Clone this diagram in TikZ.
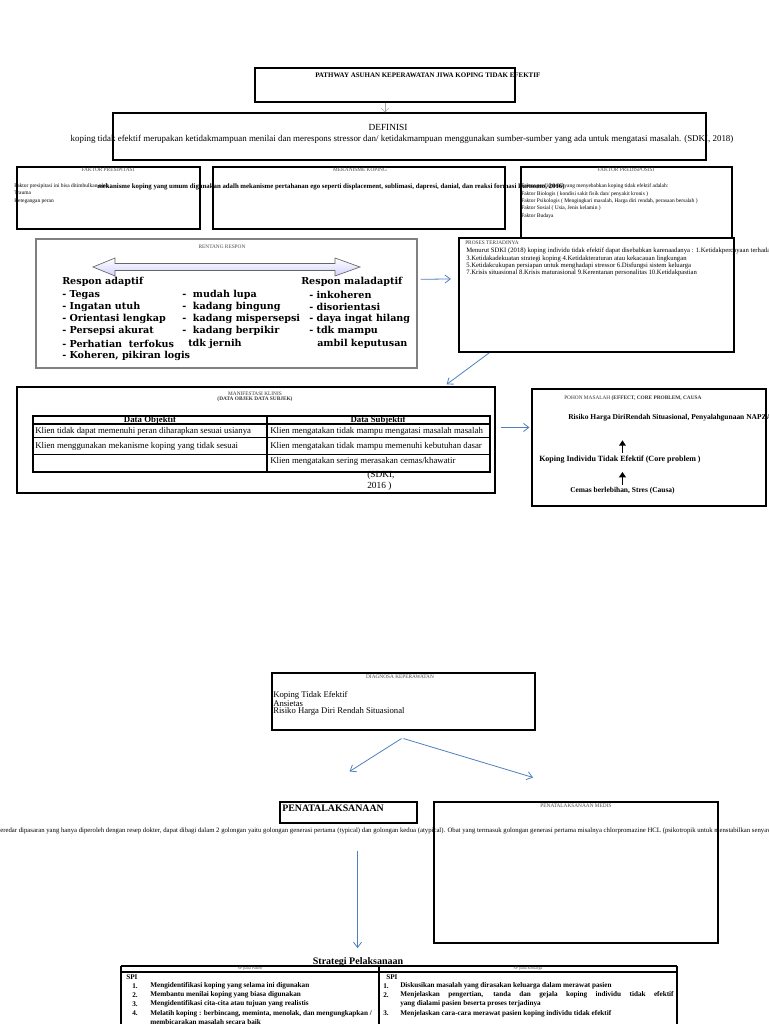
\documentclass[tikz,border=0pt]{standalone}
\usepackage{fontspec}
\setmainfont{Liberation Serif}
\newfontfamily\respfont{DejaVu Serif}
\usetikzlibrary{arrows.meta,calc,fit}
\definecolor{arrowblue}{RGB}{79,129,189}

\tikzset{
  box/.style={draw, line width=0.8pt, inner sep=0pt, fit={#1}},
  heavybox/.style={box={#1}, line width=1.6pt},
  link/.style={arrowblue, line width=0.6pt, -{Straight Barb[length=4pt,width=6pt]}},
  upar/.style={line width=1.3pt, -{Triangle[length=4pt,width=5pt]}},
  boxcap/.style={font=\fontsize{4}{5}\selectfont, text=black!70, inner sep=0pt},
  small/.style={font=\fontsize{4.1}{5.5}\selectfont, inner sep=0pt, anchor=west, align=left},
  resp/.style={font=\respfont\bfseries\fontsize{7.2}{8}\selectfont, inner sep=0pt, anchor=west},
  cell/.style={font=\fontsize{6.6}{7}\selectfont, inner sep=0pt, anchor=west},
  hdr/.style={font=\bfseries\fontsize{6.6}{7}\selectfont, inner sep=0pt},
  pohon/.style={font=\bfseries\fontsize{5.6}{6}\selectfont, inner sep=0pt, anchor=west},
  spitem/.style={font=\bfseries\fontsize{5.4}{6}\selectfont, inner sep=0pt, anchor=west},
}

\begin{document}
\begin{tikzpicture}[x=0.75pt,y=-0.75pt]
\useasboundingbox (0,0) rectangle (768,1024);
\clip (0,0) rectangle (768,1024);
\fill[white] (0,0) rectangle (768,1024);

% judul dan definisi
\node[heavybox={(255,68) (515,102)}] (judul) {};
\node[font=\bfseries\fontsize{5.2}{6}\selectfont, anchor=west, inner sep=0pt] (judulteks) at (315,75) {PATHWAY ASUHAN KEPERAWATAN JIWA KOPING TIDAK EFEKTIF};
\node[box={(113,113) (706,160)}] (def) {};
\node[font=\fontsize{7}{8}\selectfont, inner sep=0pt] (defjudul) at (388,127) {DEFINISI};
\node[font=\fontsize{6.7}{8}\selectfont, inner sep=0pt] (defteks) at (402,139) {koping tidak efektif merupakan ketidakmampuan menilai dan merespons stressor dan/ ketidakmampuan menggunakan sumber-sumber yang ada untuk mengatasi masalah. (SDKI, 2018)};
\draw[black!35, line width=0.4pt, -{Straight Barb[length=3pt]}] (judul.south) -- (judul.south |- def.north);

% faktor presipitasi, mekanisme koping, faktor predisposisi
\node[box={(17,167) (200,229)}] (presip) {};
\node[boxcap] (presipjudul) at (108,170) {FAKTOR PRESIPITASI};
\node[small] (presipteks) at (14,193.5) {Faktor presipitasi ini bisa ditimbulkan oleh :\\Trauma\\Ketegangan peran};
\node[box={(213,167) (505,229)}] (mekanisme) {};
\node[boxcap] (mekjudul) at (360,170) {MEKANISME KOPING};
\node[box={(521,167) (732,238)}] (predis) {};
\node[boxcap] (predisjudul) at (626,170) {FAKTOR PREDISPOSISI};
\node[small] (predisteks) at (521,201) {Faktor predisposisi yang menyebabkan koping tidak efektif adalah:\\Faktor Biologis ( kondisi sakit fisik dan/ penyakit kronis )\\Faktor Psikologis (  Mengingkari masalah, Harga diri rendah, perasaan bersalah )\\Faktor Sosial ( Usia, Jenis kelamin )\\Faktor Budaya};
\node[font=\bfseries\fontsize{5.1}{6}\selectfont, anchor=west, inner sep=0pt] (mekteks) at (97,187) {mekanisme koping yang umum digunakan adalh mekanisme pertahanan ego seperti displacement, sublimasi, dapresi, danial, dan reaksi formasi Purnomo, 2016)};

% rentang respon
\node[box={(36,239) (417,368)}, draw=black!50, line width=1pt] (rentang) {};
\node[boxcap] (rentangjudul) at (222,247) {RENTANG RESPON};
\draw[black!60, line width=0.5pt, top color=white, bottom color=blue!18]
  (93,267) -- (115,258) -- (115,263.5) -- (335,263.5) -- (335,258) -- (360,267)
  -- (335,276) -- (335,270.5) -- (115,270.5) -- (115,276) -- cycle;
\node[resp] (adaptif) at (62,282) {Respon adaptif};
\foreach \t [count=\i] in {Tegas, Ingatan utuh, Orientasi lengkap, Persepsi akurat, Perhatian\ \ terfokus, {Koheren, pikiran logis}}
  \node[resp] (ad\i) at (62,{282.5+12.2*\i}) {- \t};
\foreach \t [count=\i] in {mudah lupa, kadang bingung, kadang mispersepsi, kadang berpikir}
  \node[resp] (md\i) at (182,{282.5+12.2*\i}) {-\ \ \t};
\node[resp] (md5) at (188,343.5) {tdk jernih};
\node[resp] (maladaptif) at (301,282) {Respon maladaptif};
\foreach \t [count=\i] in {inkoheren, disorientasi, daya ingat hilang, tdk mampu}
  \node[resp] (mal\i) at (309,{282.5+12.2*\i}) {- \t};
\node[resp] (mal5) at (317,343.5) {ambil keputusan};

% proses terjadinya
\node[heavybox={(459,238) (734,352)}] (proses) {};
\node[boxcap, anchor=west, text=black!80] (prosesjudul) at (465,243) {PROSES TERJADINYA};
\node[font=\fontsize{5}{5.5}\selectfont, anchor=north west, inner sep=0pt, align=left] (prosesteks) at (466,248) {Menurut SDKI (2018) koping individu tidak efektif dapat disebabkan karenaadanya : 1.Ketidakpercayaan terhadap kemampuan diri\\3.Ketidakadekuatan strategi koping 4.Ketidakteraturan atau kekacauan lingkungan\\5.Ketidakcukupan persiapan untuk menghadapi stressor 6.Disfungsi sistem keluarga\\7.Krisis situasional 8.Krisis maturasional 9.Kerentanan personalitas 10.Ketidakpastian};
\draw[link] ($(rentang.north east)+(3,41)$) -- ($(proses.north west)+(-7,42)$);

% manifestasi klinis
\node[box={(17,387) (495,493)}] (manif) {};
\node[boxcap, text=black!80] (manifjudul) at (255,394) {MANIFESTASI KLINIS};
\node[boxcap, text=black!80, font=\bfseries\fontsize{4}{5}\selectfont] (manifsub) at (255,399.5) {(DATA OBJEK DATA SUBJEK)};
\draw[line width=1.2pt] (33,416) rectangle (490,472);
\draw[line width=1.2pt] (267,416) -- (267,472) (33,424) -- (490,424);
\draw[line width=0.6pt] (33,437) -- (490,437) (33,454) -- (490,454);
\node[hdr] (objektif) at (150,420) {Data Objektif};
\node[hdr] (subjektif) at (378,420) {Data Subjektif};
\node[cell] (ob1) at (35,431) {Klien tidak dapat memenuhi peran diharapkan sesuai usianya};
\node[cell] (ob2) at (35,446) {Klien menggunakan mekanisme koping yang tidak sesuai};
\node[cell] (sb1) at (270,431) {Klien mengatakan tidak mampu mengatasi masalah masalah};
\node[cell] (sb2) at (270,446) {Klien mengatakan tidak mampu memenuhi kebutuhan dasar};
\node[cell] (sb3) at (270,461) {Klien mengatakan sering merasakan cemas/khawatir};
\node[font=\fontsize{7}{8.3}\selectfont, anchor=north west, inner sep=0pt, align=left] (sdki) at (367,471) {(SDKI,\\2016 )};
\draw[link] ($(proses.south west)+(31,0)$) -- ($(manif.north east)+(-49,-2)$);

% pohon masalah
\node[box={(532,389) (766,506)}] (pohonbox) {};
\node[boxcap, anchor=west, text=black!80] (pohonjudul) at (564,398) {POHON MASALAH \textbf{(EFFECT, CORE PROBLEM, CAUSA}};
\node[pohon] (effect) at (568,418) {Risiko Harga DiriRendah Situasional, Penyalahgunaan NAPZA (};
\node[pohon, font=\bfseries\fontsize{6}{6}\selectfont] (core) at (539,460) {Koping Individu Tidak Efektif (Core problem )};
\node[pohon] (causa) at (570,491) {Cemas berlebihan, Stres (Causa)};
\draw[upar, shorten <=2pt, shorten >=6pt] (causa.north) -- (causa.north |- core.south);
\draw[upar, shorten <=2pt, shorten >=14pt] (core.north -| causa.north) -- (causa.north |- effect.south);
\draw[link] ($(manif.north east)+(5,41)$) -- ($(pohonbox.north west)+(-2,39)$);

% diagnosa keperawatan
\node[box={(272,673) (535,730)}] (diag) {};
\node[boxcap] (diagjudul) at (400,676.5) {DIAGNOSA KEPERAWATAN};
\node[font=\fontsize{6.5}{5.6}\selectfont, anchor=west, inner sep=0pt, align=left] (diagteks) at (273,703.5) {Koping Tidak Efektif\\Ansietas\\Risiko Harga Diri Rendah Situasional};

% penatalaksanaan
\node[box={(280,802) (417,823)}] (penata) {};
\node[font=\bfseries\fontsize{7.4}{8}\selectfont, anchor=west, inner sep=0pt] (penatateks) at (282,808) {PENATALAKSANAAN};
\node[box={(434,802) (718,943)}] (medis) {};
\node[boxcap] (medisjudul) at (576,806) {PENATALAKSANAAN MEDIS};
\node[font=\fontsize{5.05}{5.5}\selectfont, anchor=west, inner sep=0pt] (obat) at (-3.3,831) {beredar dipasaran yang hanya diperoleh dengan resep dokter, dapat dibagi dalam 2 golongan yaitu golongan generasi pertama (typical) dan golongan kedua (atypical). Obat yang termasuk golongan generasi pertama misalnya chlorpromazine HCL (psikotropik untuk menstabilkan senyawa};
\draw[link] ($(diag.south)+(-2,8)$) -- ($(penata.north)+(1,-30)$);
\draw[link] ($(diag.south)+(0,8)$) -- ($(medis.north)+(-43,-24)$);

% strategi pelaksanaan
\node[font=\bfseries\fontsize{7.5}{8}\selectfont, inner sep=0pt] (strategi) at (358,962) {Strategi Pelaksanaan};
\draw[link] ($(penata.south)+(9,27)$) -- ($(strategi.north)+(-0.5,-9)$);
\draw[line width=0.9pt] (121,966) -- (677,966) (121,972) -- (677,972);
\draw[line width=0.9pt] (121,966) -- (121,1030) (379,966) -- (379,1030) (677,966) -- (677,1030);
\node[boxcap, font=\fontsize{3}{3}\selectfont] (sppasien) at (250,969) {SP pada Pasien};
\node[boxcap, font=\fontsize{3}{3}\selectfont] (spkeluarga) at (528,969) {SP pada Keluarga};
\node[spitem] (spia) at (126,977) {SPI};
\node[spitem] (spib) at (386,977) {SPI};
\foreach \t [count=\i] in {Mengidentifikasi koping yang selama ini digunakan, Membantu menilai koping yang biasa digunakan, Mengidentifikasi cita-cita atau tujuan yang realistis, {Melatih koping : berbincang, meminta, menolak, dan mengungkapkan /}} {
  \node[spitem] (pn\i) at (132,{976.5+9.2*\i}) {\i.};
  \node[spitem] (pt\i) at (150,{976.5+9.2*\i}) {\t};
}
\node[spitem] (pt5) at (150,1022.5) {membicarakan masalah secara baik};
\node[spitem] (kn1) at (383,985.7) {1.};
\node[spitem] (kt1) at (400,985.7) {Diskusikan masalah yang dirasakan keluarga dalam merawat pasien};
\node[spitem] (kn2) at (383,994.9) {2.};
\node[spitem] (kt2) at (400,994.9) {\makebox[205pt][s]{Menjelaskan pengertian, tanda dan gejala koping individu tidak efektif}};
\node[spitem] (kt2b) at (400,1004.1) {yang dialami pasien beserta proses terjadinya};
\node[spitem] (kn3) at (383,1013.3) {3.};
\node[spitem] (kt3) at (400,1013.3) {Menjelaskan cara-cara merawat pasien koping individu tidak efektif};
\end{tikzpicture}
\end{document}
